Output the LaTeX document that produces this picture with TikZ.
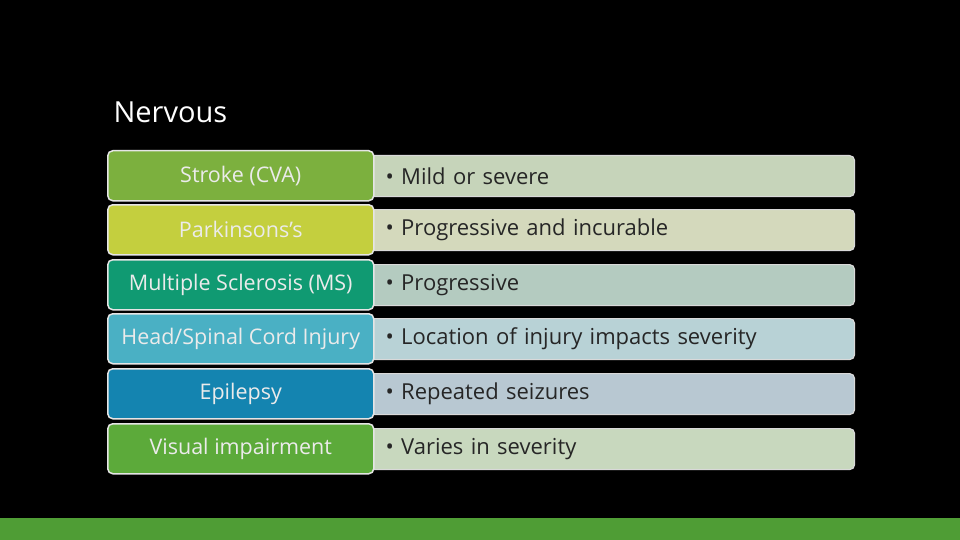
\documentclass[tikz,border=0pt]{standalone}
\usepackage{fontspec}
\setmainfont{Open Sans}
\begin{document}
\begin{tikzpicture}[x=1pt,y=-1pt,
  lbox/.style={draw=white!90!black,line width=1.5pt,rounded corners=5pt,minimum width=266pt,minimum height=50pt,font=\fontsize{21.5}{24}\selectfont,text=white!92!black,anchor=north west,inner sep=0pt},
  rbox/.style={draw=white!85!black,line width=1.2pt,rounded corners=5pt,minimum width=488pt,minimum height=41pt,font=\fontsize{22}{24}\selectfont,text=black!85,anchor=north west,inner sep=0pt,text width=470pt,align=left}]
\fill[black] (0,0) rectangle (960,540);
\useasboundingbox (0,0) rectangle (960,540);
\fill[fill={rgb,255:red,79;green,157;blue,53}] (0,518) rectangle (960,540);
\node[anchor=west,text=white,font=\fontsize{29}{32}\selectfont] (title) at (110,112) {Nervous};
\definecolor{l1}{RGB}{124,176,62}\definecolor{r1}{RGB}{198,212,186}
\definecolor{l2}{RGB}{196,207,62}\definecolor{r2}{RGB}{212,217,188}
\definecolor{l3}{RGB}{16,154,114}\definecolor{r3}{RGB}{180,203,192}
\definecolor{l4}{RGB}{74,176,196}\definecolor{r4}{RGB}{184,210,214}
\definecolor{l5}{RGB}{20,132,176}\definecolor{r5}{RGB}{184,200,210}
\definecolor{l6}{RGB}{92,170,58}\definecolor{r6}{RGB}{200,216,190}
\foreach \i/\y/\a/\b in {1/150/Stroke (CVA)/Mild or severe,
  2/204/Parkinsons’s/Progressive and incurable,
  3/259/Multiple Sclerosis (MS)/Progressive,
  4/313/Head\slash Spinal Cord Injury/Location of injury impacts severity,
  5/368/Epilepsy/Repeated seizures,
  6/423/Visual impairment/Varies in severity}{
  \node[rbox,fill=r\i] (r\i) at (366,\y+5) {\hspace*{10pt}\textbullet\ \b};
  \node[lbox,fill=l\i] (l\i) at (107,\y) {\a};
}
\end{tikzpicture}
\end{document}
